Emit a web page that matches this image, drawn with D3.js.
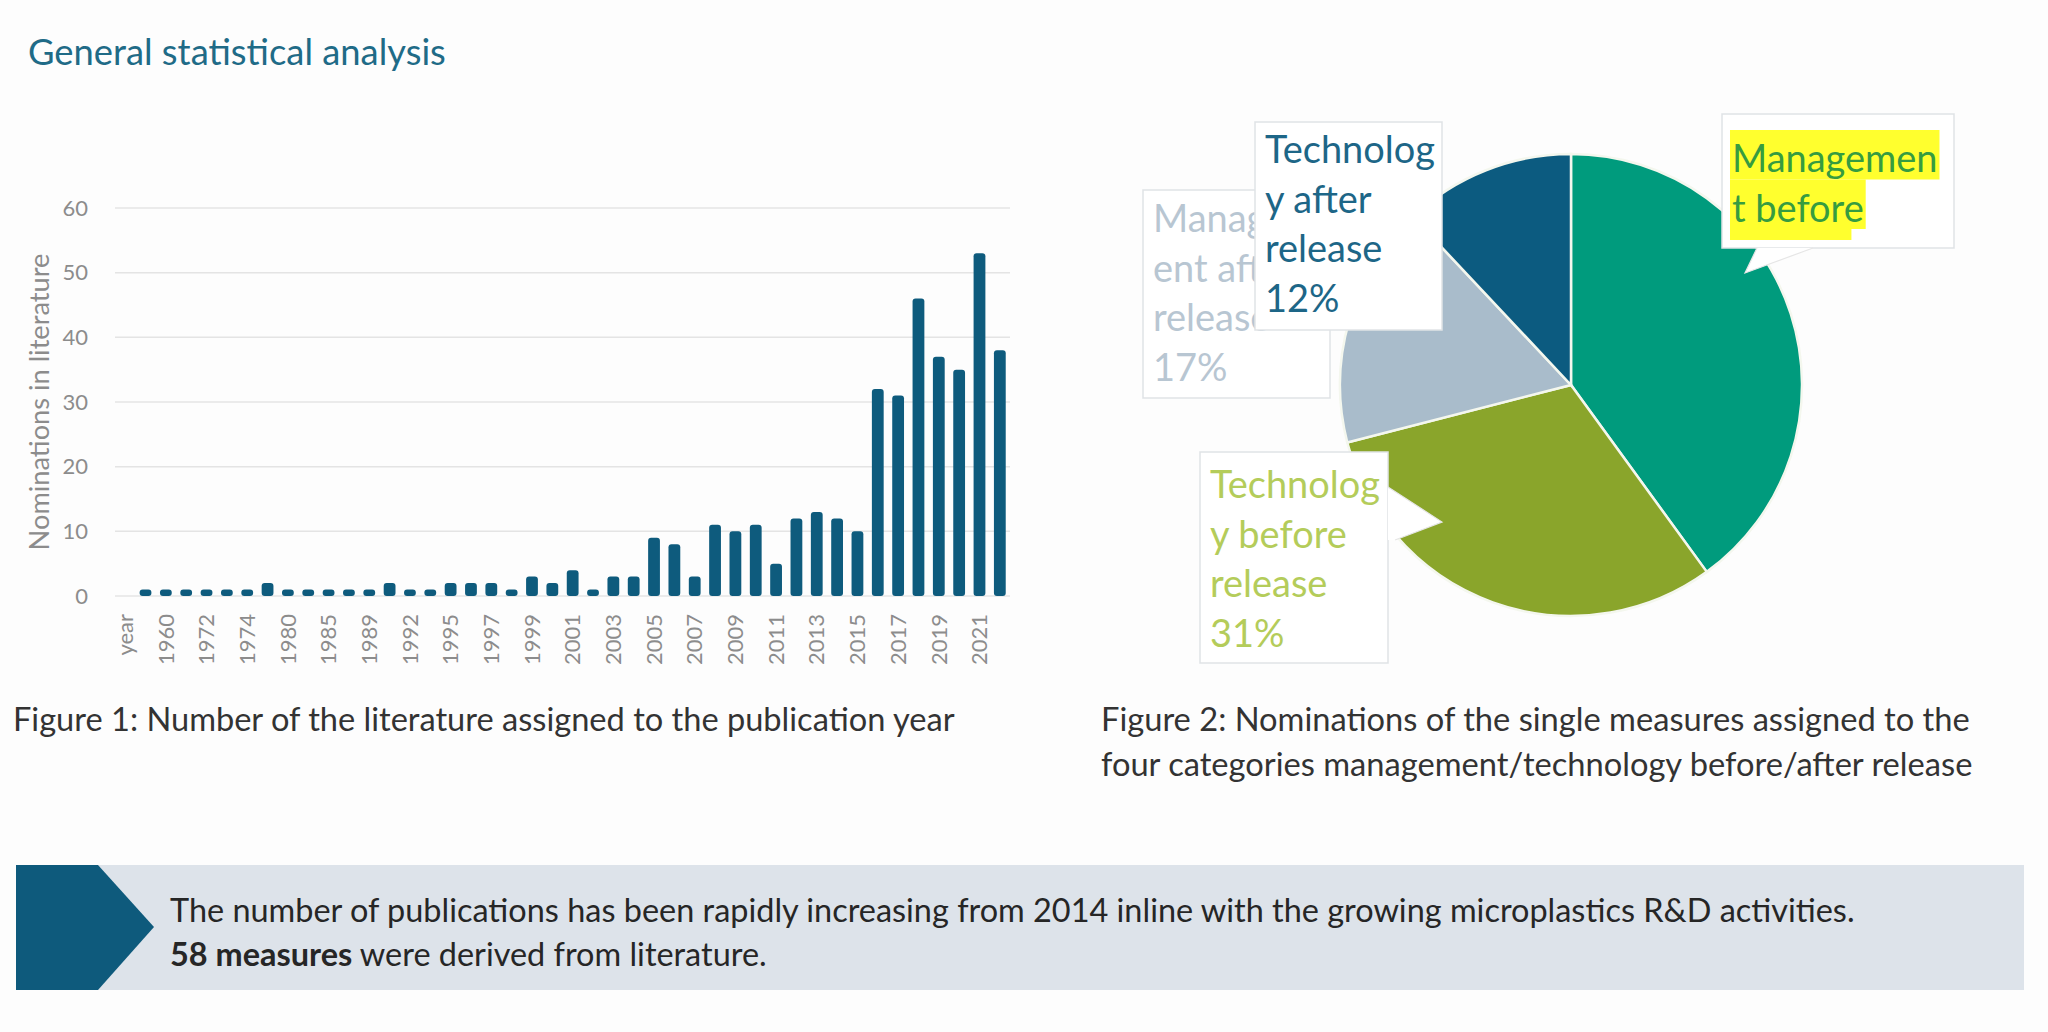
<!DOCTYPE html>
<html>
<head>
<meta charset="utf-8">
<script src="https://cdn.jsdelivr.net/npm/d3@7"></script>
<style>
  body { margin: 0; background: #fdfdfd; }
  svg { display: block; font-family: Lato, "Open Sans", sans-serif; }
</style>
</head>
<body>
<svg id="chart" width="2048" height="1032"></svg>
<script>
// Figure 1 data: literature per publication year (only every 2nd label is shown)
var years = ["year", "1950", "1960", "1970", "1972", "1973", "1974", "1977", "1980", "1983",
	"1985", "1987", "1989", "1990", "1992", "1993", "1995", "1996", "1997", "1998",
	"1999", "2000", "2001", "2002", "2003", "2004", "2005", "2006", "2007", "2008",
	"2009", "2010", "2011", "2012", "2013", "2014", "2015", "2016", "2017", "2018",
	"2019", "2020", "2021", "2022"];
var counts = [0, 1, 1, 1, 1, 1, 1, 2, 1, 1,
	1, 1, 1, 2, 1, 1, 2, 2, 2, 1,
	3, 2, 4, 1, 3, 3, 9, 8, 3, 11,
	10, 11, 5, 12, 13, 12, 10, 32, 31, 46,
	37, 35, 53, 38];
var yTicks = [0, 10, 20, 30, 40, 50, 60];

// Figure 2 data: share of measures per category (%)
var measureCats = ["Management before release", "Technology before release",
	"Management after release", "Technology after release"];
var measureShares = [40, 31, 17, 12];
var measureColors = ["#009b7d", "#8aa52b", "#a9bccb", "#0c5b80"];
var labelColors = ["#369c40", "#b4cc5a", "#b8c6d2", "#1d6687"];
// line breaks as they appear in the callouts
var labelLines = [
	["Managemen", "t before", "release"],
	["Technolog", "y before", "release"],
	["Managem", "ent after", "release"],
	["Technolog", "y after", "release"]
];

var svg = d3.select("#chart");

// scale font-size so the text gets a given width
function fitWidth(sel, w) {
	sel.each(function() {
		var t = d3.select(this);
		var cur = parseFloat(t.style("font-size"));
		t.style("font-size", (cur * w / this.getComputedTextLength()) + "px");
	});
	return parseFloat(sel.style("font-size"));
}

// Title
svg.append("text")
	.attr("x", 28).attr("y", 65)
	.style("font-size", "40px")
	.style("fill", "#1f6b87")
	.text("General statistical analysis")
	.call(fitWidth, 418);

// ---------- Figure 1: bar chart ----------
var x = d3.scaleBand()
	.domain(years)
	.range([115, 1010])
	.paddingInner(0.42)
	.paddingOuter(0.21);

var y = d3.scaleLinear()
	.domain([0, 60])
	.range([596, 208]);

var bars = svg.append("g");

bars.selectAll(".grid")
	.data(yTicks)
  .enter().append("line")
	.attr("x1", 115).attr("x2", 1010)
	.attr("y1", function(d) { return y(d); })
	.attr("y2", function(d) { return y(d); })
	.style("stroke", "#e4e4e4")
	.style("stroke-width", 1.5);

var yAxis = bars.append("g")
	.attr("transform", "translate(115,0)")
	.call(d3.axisLeft(y).tickValues(yTicks).tickSize(0).tickPadding(27));
yAxis.select(".domain").remove();
yAxis.selectAll("text")
	.style("font-family", "Lato, sans-serif")
	.style("font-size", "22px")
	.style("fill", "#8c8c8c");

var xAxis = bars.append("g")
	.attr("transform", "translate(0,596)")
	.call(d3.axisBottom(x)
		.tickValues(years.filter(function(d, i) { return i % 2 == 0; }))
		.tickSize(0));
xAxis.select(".domain").remove();
xAxis.selectAll("text")
	.attr("transform", "rotate(-90)")
	.attr("x", -18).attr("y", 0)
	.attr("dy", "0.35em")
	.style("text-anchor", "end")
	.style("font-family", "Lato, sans-serif")
	.style("font-size", "22px")
	.style("fill", "#8c8c8c");

bars.append("text")
	.attr("transform", "translate(39,402) rotate(-90)")
	.attr("dy", "0.35em")
	.style("text-anchor", "middle")
	.style("font-size", "24px")
	.style("fill", "#8c8c8c")
	.text("Nominations in literature")
	.call(fitWidth, 297);

bars.selectAll(".bar")
	.data(counts)
  .enter().append("rect")
	.attr("class", "bar")
	.attr("x", function(d, i) { return x(years[i]); })
	.attr("y", function(d) { return y(d); })
	.attr("width", x.bandwidth())
	.attr("height", function(d) { return y(0) - y(d); })
	.attr("rx", 3)
	.style("fill", "#0e5b7d");

// ---------- Figure 2: pie chart ----------
var cx = 1571, cy = 385, r = 231;

var pie = d3.pie().sort(null).value(function(d) { return d; });
var arc = d3.arc().innerRadius(0).outerRadius(r);
var total = d3.sum(measureShares);

var pieG = svg.append("g").attr("transform", "translate(" + cx + "," + cy + ")");
pieG.selectAll("path")
	.data(pie(measureShares))
  .enter().append("path")
	.attr("d", arc)
	.style("fill", function(d, i) { return measureColors[i]; })
	.style("stroke", "#f4f7ee")
	.style("stroke-width", 2.5);

// callout boxes (relative to pie centre), first baseline offset, pointer where visible
var boxes = [
	{x: 151, y: -271, w: 232, h: 134, base: 58, ptr: [[186, -137], [174, -112], [242, -137]]},
	{x: -371, y: 67, w: 188, h: 211, base: 46, ptr: [[-183, 102], [-129, 137], [-176, 155], [-183, 155]]},
	{x: -428, y: -195, w: 187, h: 208, base: 42, ptr: null},
	{x: -316, y: -263, w: 187, h: 208, base: 41, ptr: null}
];
var lineStep = 49.5;

// measure label font on one sample word
var probe = svg.append("text").style("font-size", "40px").text("Technolog");
var labelSize = fitWidth(probe, 170);
probe.remove();

var defs = svg.append("defs");

boxes.forEach(function(b, i) {
	var g = pieG.append("g");
	defs.append("clipPath").attr("id", "clip" + i)
	  .append("rect")
		.attr("x", b.x).attr("y", b.y).attr("width", b.w).attr("height", b.h - 8);

	g.append("rect")
		.attr("x", b.x).attr("y", b.y).attr("width", b.w).attr("height", b.h)
		.style("fill", "#fff")
		.style("stroke", "#e0e3e6")
		.style("stroke-width", 1.5);

	if (b.ptr) {
		g.append("polygon")
			.attr("points", b.ptr.join(" "))
			.style("fill", "#fff");
		g.append("polyline")
			.attr("points", b.ptr.slice(0, 3).join(" "))
			.style("fill", "none")
			.style("stroke", "#e6e6e6")
			.style("stroke-width", 1.2);
	}

	var lines = labelLines[i].concat([d3.format(".0%")(measureShares[i] / total)]);
	var tg = g.append("g").attr("clip-path", "url(#clip" + i + ")");

	var texts = tg.selectAll("text")
		.data(lines)
	  .enter().append("text")
		.attr("x", b.x + 10)
		.attr("y", function(d, j) { return b.y + b.base + j * lineStep; })
		.style("font-size", labelSize + "px")
		.style("fill", labelColors[i])
		.text(function(d) { return d; });

	// yellow highlight on the first callout
	if (i == 0) {
		texts.each(function(d, j) {
			var len = this.getComputedTextLength();
			tg.insert("rect", "text")
				.attr("x", b.x + 8).attr("y", b.y + b.base - 42 + j * lineStep)
				.attr("width", len + 4).attr("height", lineStep)
				.style("fill", "#ffff2e");
		});
	}
});

// ---------- captions ----------
var cap1 = svg.append("text")
	.attr("x", 13).attr("y", 731)
	.style("font-size", "28px")
	.style("fill", "#333")
	.text("Figure 1: Number of the literature assigned to the publication year");
fitWidth(cap1, 942);

var cap2 = svg.append("text")
	.attr("x", 1101).attr("y", 731)
	.style("font-size", "28px")
	.style("fill", "#333")
	.text("Figure 2: Nominations of the single measures assigned to the");
var capSize = fitWidth(cap2, 869);
svg.append("text")
	.attr("x", 1101).attr("y", 776)
	.style("font-size", capSize + "px")
	.style("fill", "#333")
	.text("four categories management/technology before/after release");

// ---------- summary banner ----------
svg.append("rect")
	.attr("x", 16).attr("y", 865).attr("width", 2008).attr("height", 125)
	.style("fill", "#dde3ea");
svg.append("polygon")
	.attr("points", "16,865 98,865 154,927 98,990 16,990")
	.style("fill", "#0e5a7c");

var ban1 = svg.append("text")
	.attr("x", 170).attr("y", 922)
	.style("font-size", "28px")
	.style("fill", "#262626")
	.text("The number of publications has been rapidly increasing from 2014 inline with the growing microplastics R&D activities.");
var banSize = fitWidth(ban1, 1685);

var ban2 = svg.append("text")
	.attr("x", 170).attr("y", 966)
	.style("font-size", banSize + "px")
	.style("fill", "#262626");
ban2.append("tspan").style("font-weight", "bold").text("58 measures");
ban2.append("tspan").text(" were derived from literature.");
</script>
</body>
</html>
